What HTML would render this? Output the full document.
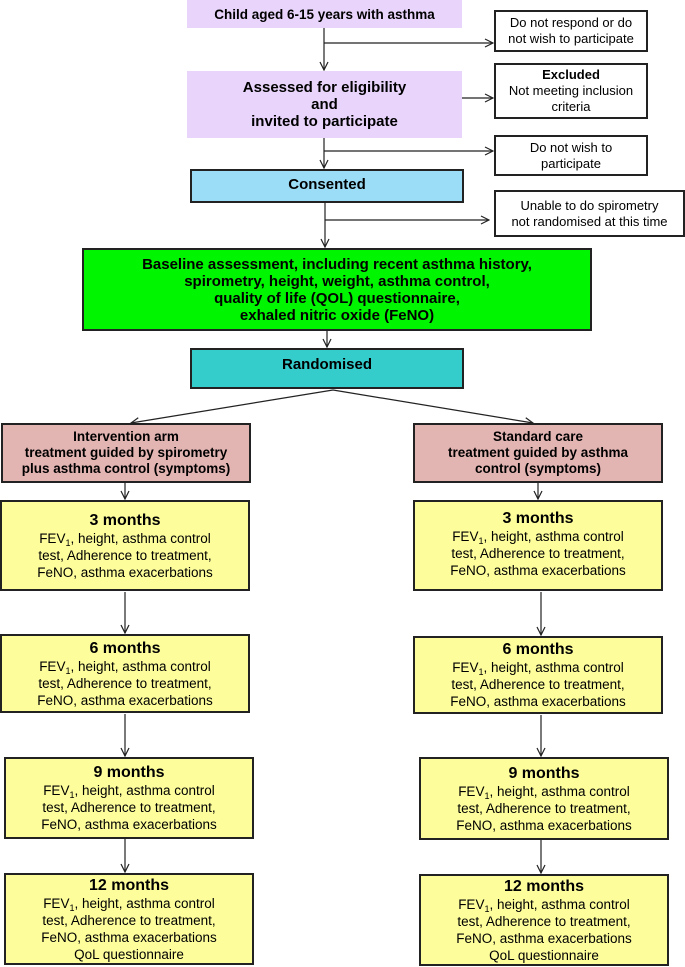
<!DOCTYPE html>
<html><head><meta charset="utf-8"><style>
body{margin:0;width:685px;height:967px;background:#fff;position:relative;overflow:hidden;font-family:"Liberation Sans",Arial,sans-serif;color:#000}
.b{position:absolute;box-sizing:border-box;text-align:center;display:flex;justify-content:center;align-items:center}
.b>div{width:100%}
.bd{border:2px solid #222}
.w{background:#fff;font-size:13px;line-height:16px}
.p{background:#e9d5fb;font-weight:bold}
.pk{background:#e2b4b2;font-weight:bold;font-size:13.5px;line-height:16px}
.y{background:#fdfd9c;font-size:13.5px;line-height:17px}
.y b{font-size:16px;line-height:19px}
sub{font-size:9px;line-height:0;vertical-align:-3px}
svg{position:absolute;left:0;top:0}
</style></head><body>
<svg width="685" height="967" stroke="#222" stroke-width="1.2" fill="none">
<defs><marker id="a" markerWidth="10" markerHeight="10" refX="9" refY="5" orient="auto" markerUnits="userSpaceOnUse"><path d="M1,1 L9,5 L1,9"/></marker></defs>
<line x1="324" y1="28" x2="324" y2="70" marker-end="url(#a)"/>
<line x1="324" y1="43" x2="493" y2="43" marker-end="url(#a)"/>
<line x1="462" y1="98" x2="493" y2="98" marker-end="url(#a)"/>
<line x1="324" y1="138" x2="324" y2="168" marker-end="url(#a)"/>
<line x1="324" y1="151" x2="493" y2="151" marker-end="url(#a)"/>
<line x1="325" y1="203" x2="325" y2="247" marker-end="url(#a)"/>
<line x1="325" y1="220" x2="489" y2="220" marker-end="url(#a)"/>
<line x1="327" y1="331" x2="327" y2="347" marker-end="url(#a)"/>
<line x1="333" y1="390" x2="131" y2="423" marker-end="url(#a)"/>
<line x1="333" y1="390" x2="533" y2="423" marker-end="url(#a)"/>
<line x1="125" y1="483" x2="125" y2="499" marker-end="url(#a)"/>
<line x1="125" y1="592" x2="125" y2="633" marker-end="url(#a)"/>
<line x1="125" y1="714" x2="125" y2="756" marker-end="url(#a)"/>
<line x1="125" y1="839" x2="125" y2="872" marker-end="url(#a)"/>
<line x1="538" y1="483" x2="538" y2="499" marker-end="url(#a)"/>
<line x1="541" y1="592" x2="541" y2="635" marker-end="url(#a)"/>
<line x1="541" y1="715" x2="541" y2="756" marker-end="url(#a)"/>
<line x1="541" y1="840" x2="541" y2="873" marker-end="url(#a)"/>
</svg>
<div class="b p" style="left:187px;top:0;width:275px;height:28px;font-size:13.5px"><div>Child aged 6-15 years with asthma</div></div>
<div class="b p" style="left:187px;top:71px;width:275px;height:67px;font-size:15px;line-height:17px"><div>Assessed for eligibility<br>and<br>invited to participate</div></div>
<div class="b bd w" style="left:494px;top:10px;width:154px;height:42px"><div>Do not respond or do<br>not wish to participate</div></div>
<div class="b bd w" style="left:494px;top:63px;width:154px;height:56px"><div><b>Excluded</b><br>Not meeting inclusion<br>criteria</div></div>
<div class="b bd w" style="left:494px;top:135px;width:154px;height:41px"><div>Do not wish to<br>participate</div></div>
<div class="b bd" style="left:190px;top:169px;width:274px;height:34px;background:#9bddf6;font-weight:bold;font-size:15px;align-items:flex-start;padding-top:5px"><div>Consented</div></div>
<div class="b bd w" style="left:494px;top:190px;width:191px;height:47px"><div>Unable to do spirometry<br>not randomised at this time</div></div>
<div class="b bd" style="left:82px;top:248px;width:510px;height:83px;background:#00f500;font-weight:bold;font-size:15px;line-height:17px"><div>Baseline assessment, including recent asthma history,<br>spirometry, height, weight, asthma control,<br>quality of life (QOL) questionnaire,<br>exhaled nitric oxide (FeNO)</div></div>
<div class="b bd" style="left:190px;top:348px;width:274px;height:41px;background:#35cccc;font-weight:bold;font-size:15px;align-items:flex-start;padding-top:6px"><div>Randomised</div></div>
<div class="b bd pk" style="left:1px;top:423px;width:250px;height:60px"><div>Intervention arm<br>treatment guided by spirometry<br>plus asthma control (symptoms)</div></div>
<div class="b bd pk" style="left:413px;top:423px;width:250px;height:60px"><div>Standard care<br>treatment guided by asthma<br>control (symptoms)</div></div>

<div class="b bd y" style="left:0;top:500px;width:250px;height:91px"><div><b>3 months</b><br>FEV<sub>1</sub>, height, asthma control<br>test, Adherence to treatment,<br>FeNO, asthma exacerbations</div></div>
<div class="b bd y" style="left:413px;top:500px;width:250px;height:91px;align-items:flex-start;padding-top:7px"><div><b>3 months</b><br>FEV<sub>1</sub>, height, asthma control<br>test, Adherence to treatment,<br>FeNO, asthma exacerbations</div></div>
<div class="b bd y" style="left:0;top:634px;width:250px;height:79px"><div><b>6 months</b><br>FEV<sub>1</sub>, height, asthma control<br>test, Adherence to treatment,<br>FeNO, asthma exacerbations</div></div>
<div class="b bd y" style="left:413px;top:636px;width:250px;height:78px"><div><b>6 months</b><br>FEV<sub>1</sub>, height, asthma control<br>test, Adherence to treatment,<br>FeNO, asthma exacerbations</div></div>
<div class="b bd y" style="left:4px;top:757px;width:250px;height:82px"><div><b>9 months</b><br>FEV<sub>1</sub>, height, asthma control<br>test, Adherence to treatment,<br>FeNO, asthma exacerbations</div></div>
<div class="b bd y" style="left:419px;top:757px;width:250px;height:83px"><div><b>9 months</b><br>FEV<sub>1</sub>, height, asthma control<br>test, Adherence to treatment,<br>FeNO, asthma exacerbations</div></div>
<div class="b bd y" style="left:4px;top:873px;width:250px;height:92px"><div><b>12 months</b><br>FEV<sub>1</sub>, height, asthma control<br>test, Adherence to treatment,<br>FeNO, asthma exacerbations<br>QoL questionnaire</div></div>
<div class="b bd y" style="left:419px;top:874px;width:250px;height:92px"><div><b>12 months</b><br>FEV<sub>1</sub>, height, asthma control<br>test, Adherence to treatment,<br>FeNO, asthma exacerbations<br>QoL questionnaire</div></div>
</body></html>
